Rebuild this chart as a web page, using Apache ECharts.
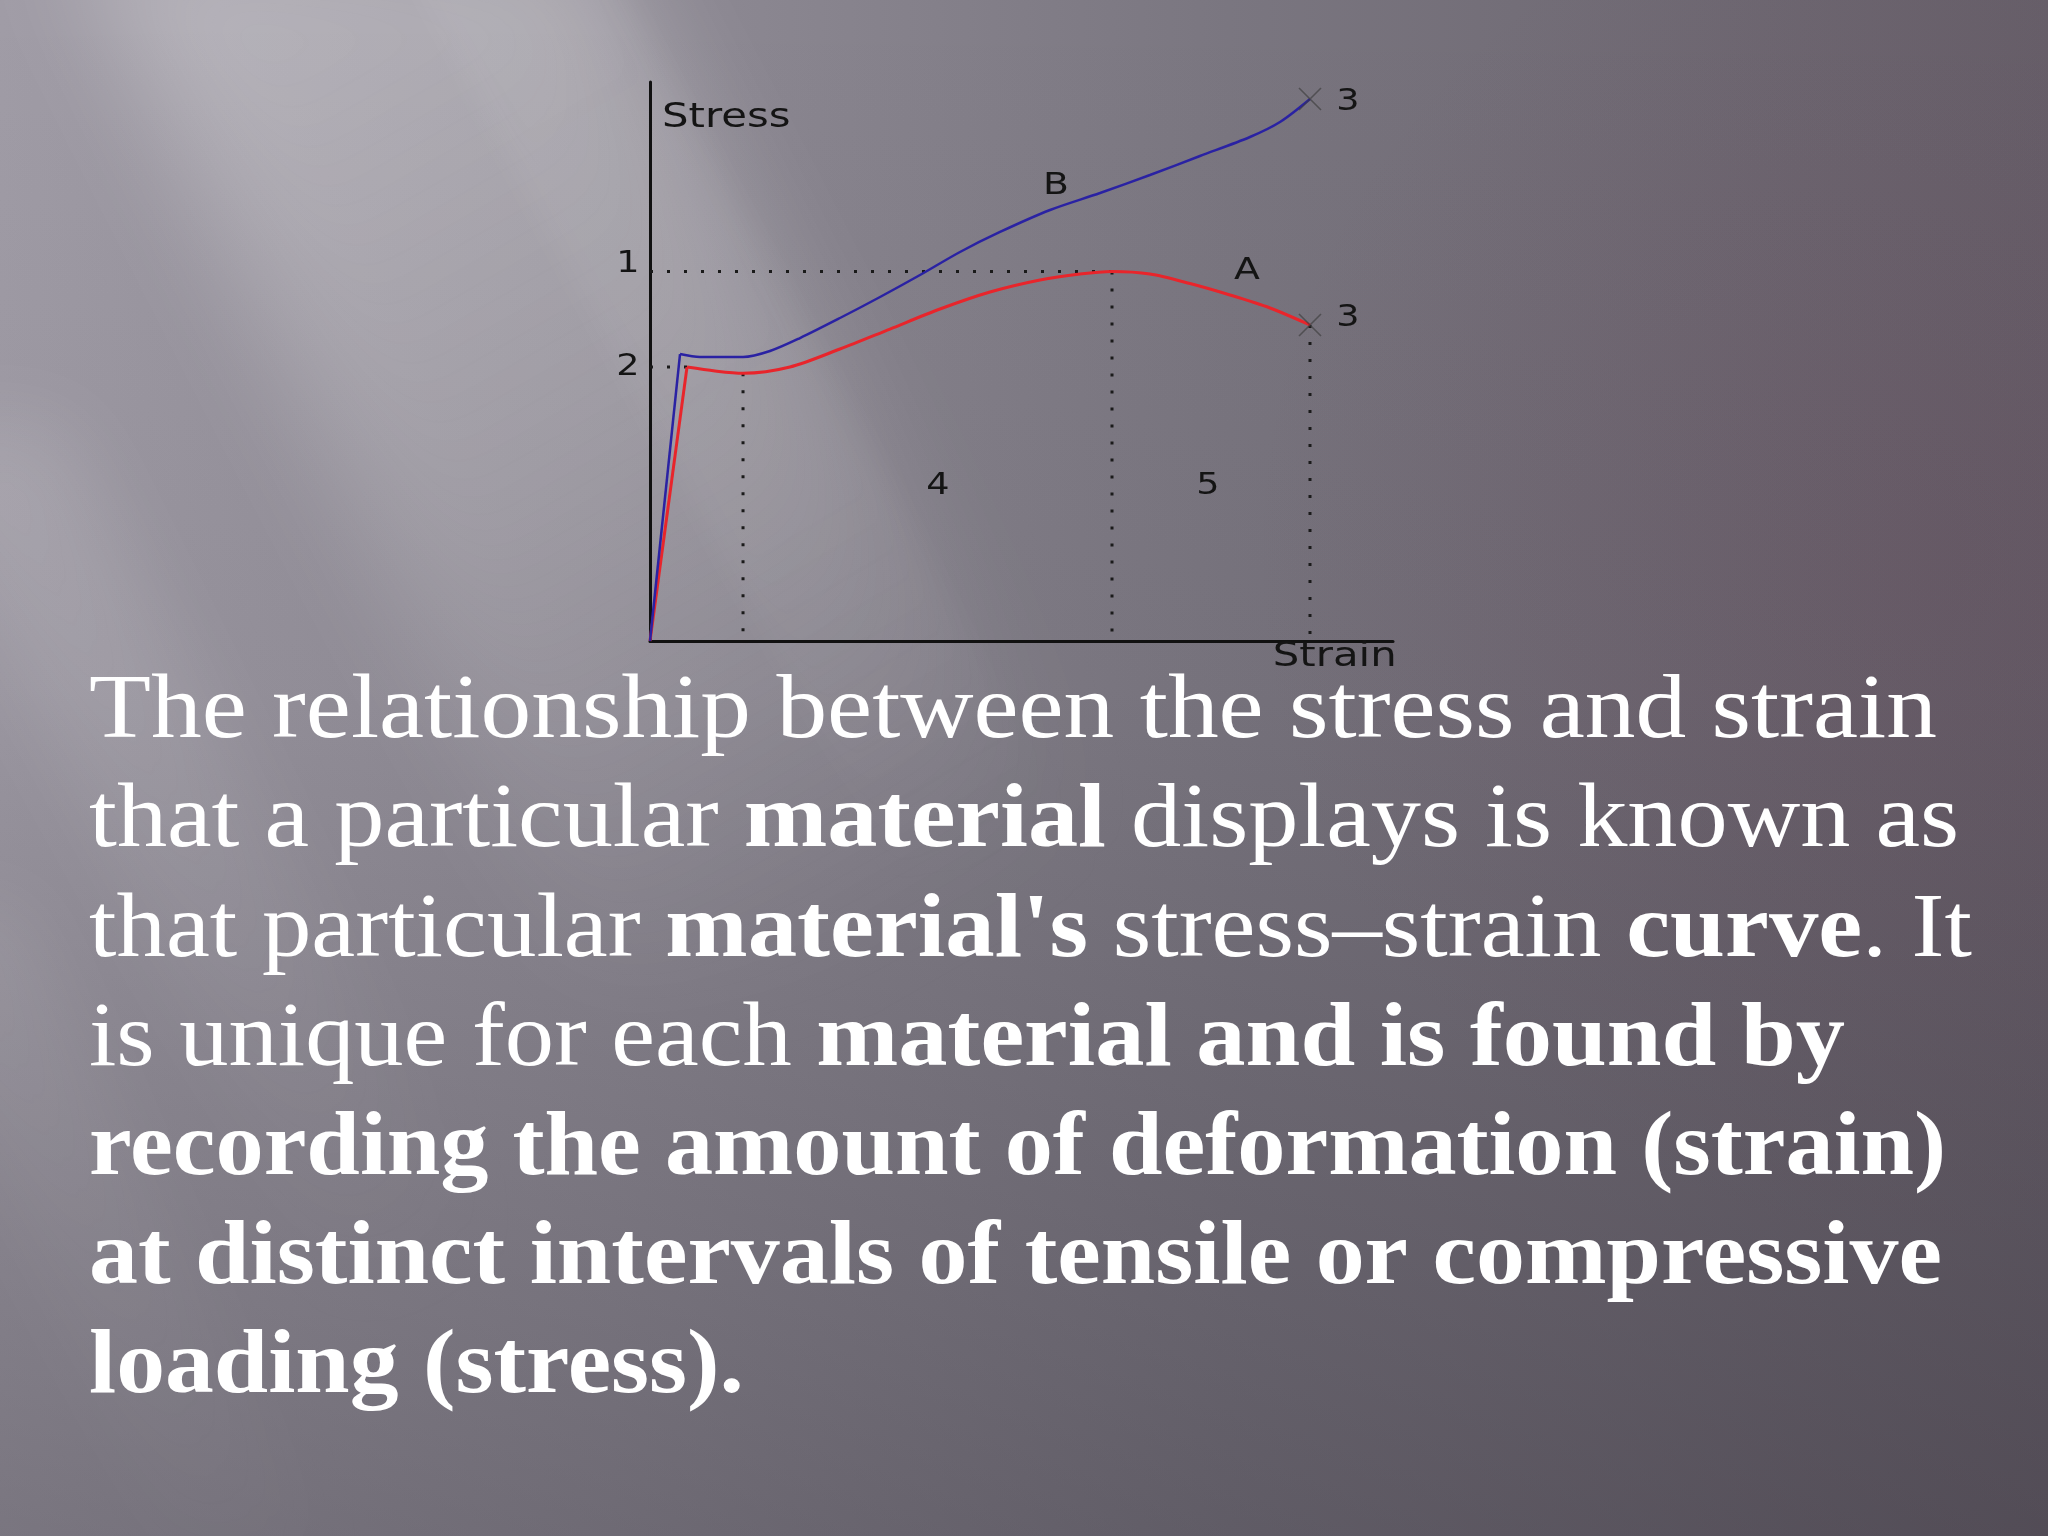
<!DOCTYPE html>
<html>
<head>
<meta charset="utf-8">
<script src="https://cdn.jsdelivr.net/npm/echarts@6/dist/echarts.min.js"></script>
<style>
html,body{margin:0;padding:0;width:2048px;height:1536px;overflow:hidden;background:#85818b;}
#c{width:2048px;height:1536px;}
</style>
</head>
<body>
<div id="c"></div>
<script>
// ---------- data (strain / stress in relative units, axes 0..100) ----------
// curve A (red): elastic line to the yield point, then plastic part
const curveAStrain = [0, 4.98, 8.75, 12.52, 18.84, 25.57, 32.30, 39.03, 45.76, 52.49, 57.87, 62.18, 67.29, 72.68, 78.06, 83.45, 88.83];
const curveAStress = [0, 49.0, 48.3, 47.9, 49.02, 52.24, 55.81, 59.39, 62.43, 64.58, 65.65, 66.10, 65.65, 63.95, 61.90, 59.57, 56.53];
// curve B (blue)
const curveBStrain = [0, 4.04, 6.73, 12.52, 16.15, 20.19, 25.57, 30.96, 36.34, 41.72, 47.11, 53.84, 60.57, 67.29, 74.02, 80.75, 84.79, 88.83];
const curveBStress = [0, 51.34, 50.81, 50.81, 51.88, 54.20, 57.78, 61.54, 65.47, 69.59, 73.17, 77.10, 80.14, 83.36, 86.76, 90.16, 92.84, 96.96];

const ultimateStrain = 62.18, ultimateStress = 66.1;   // point 1
const yieldStrain = 4.98, yieldStress = 49.0;          // point 2
const lowerYieldStrain = 12.52, lowerYieldStress = 47.9;
const fractureStrain = 88.83;                          // point 3
const fractureStressA = 56.53, fractureStressB = 96.96;

// annotation labels: [text, strain, stress, align]
const annotations = [
  ['1', -2.96, 67.4, 'center'],
  ['2', -2.96, 49.0, 'center'],
  ['3', 93.94, 96.4, 'center'],
  ['3', 93.94, 57.8, 'center'],
  ['A', 80.35, 66.2, 'center'],
  ['B', 54.64, 81.4, 'center'],
  ['4', 38.76, 27.7, 'center'],
  ['5', 75.10, 27.7, 'center']
];
const axisNames = [
  ['Stress', 1.62, 93.6, 'left'],
  ['Strain', 100.5, -2.86, 'right']
];

// paragraph: each line is a list of [text, bold]
const paragraph = [
  [['The relationship between the stress and strain', 0]],
  [['that a particular ', 0], ['material', 1], [' displays is known as', 0]],
  [['that particular ', 0], ["material's", 1], [' stress\u2013strain ', 0], ['curve', 1], ['. It', 0]],
  [['is unique for each ', 0], ['material and is found by', 1]],
  [['recording the amount of deformation (strain)', 1]],
  [['at distinct intervals of tensile or compressive', 1]],
  [['loading (stress).', 1]]
];
const lineWidths = [1848, 1870, 1883, 1756, 1857, 1853, 655];
const lineBaselines = [743, 852, 962, 1071, 1180, 1289, 1398];

// ---------- chart ----------
const chart = echarts.init(document.getElementById('c'), null, {renderer: 'canvas'});
const zip = (a, b) => a.map((v, i) => [v, b[i]]);
const dotStyle = {color: '#1a1a1a', width: 3, type: [3, 14]};
const redStyle = {color: '#e8252b', width: 3};
const blueStyle = {color: '#2a22a3', width: 2.5};

const guideLines = [
  [[0, ultimateStress], [ultimateStrain, ultimateStress]],
  [[0, yieldStress], [yieldStrain, yieldStress]],
  [[lowerYieldStrain, lowerYieldStress], [lowerYieldStrain, 0]],
  [[ultimateStrain, ultimateStress], [ultimateStrain, 0]],
  [[fractureStrain, fractureStressA], [fractureStrain, 0]]
];

const series = guideLines.map(d => ({
  type: 'line', data: d, symbol: 'none', silent: true, z: 1,
  lineStyle: dotStyle, animation: false
}));
const A = zip(curveAStrain, curveAStress), B = zip(curveBStrain, curveBStress);
series.push({type: 'line', data: A.slice(0, 2), symbol: 'none', lineStyle: redStyle, z: 3, animation: false});
series.push({type: 'line', data: A.slice(1), symbol: 'none', smooth: 0.3, lineStyle: redStyle, z: 3, animation: false});
series.push({type: 'line', data: B.slice(0, 2), symbol: 'none', lineStyle: blueStyle, z: 4, animation: false});
series.push({type: 'line', data: B.slice(1), symbol: 'none', smooth: 0.3, lineStyle: blueStyle, z: 4, animation: false});
series.push({
  type: 'scatter', data: [[fractureStrain, fractureStressB], [fractureStrain, fractureStressA]],
  symbol: 'path://M0,0L10,10M10,0L0,10', symbolSize: 22,
  itemStyle: {color: 'none', borderColor: 'rgba(60,60,60,0.8)', borderWidth: 1.6}, z: 5, animation: false
});

chart.setOption({
  animation: false,
  grid: {left: 650, top: 82, width: 743, height: 559, containLabel: false},
  xAxis: {type: 'value', min: 0, max: 100, axisLine: {show: true, lineStyle: {color: '#111', width: 3}},
    axisTick: {show: false}, axisLabel: {show: false}, splitLine: {show: false}},
  yAxis: {type: 'value', min: 0, max: 100, axisLine: {show: true, lineStyle: {color: '#111', width: 3}},
    axisTick: {show: false}, axisLabel: {show: false}, splitLine: {show: false}},
  series: series
});

// ---------- background (painted once into an offscreen canvas) ----------
const W = 2048, H = 1536;
const bgCanvas = document.createElement('canvas');
bgCanvas.width = W; bgCanvas.height = H;
(function paintBackground(g) {
  let gr = g.createLinearGradient(0, 0, W, 0);
  gr.addColorStop(0, '#a09ca6'); gr.addColorStop(0.3, '#8f8b95');
  gr.addColorStop(0.6, '#7a7680'); gr.addColorStop(1, '#665f69');
  g.fillStyle = gr; g.fillRect(0, 0, W, H);
  function beam(pts, blur, x1, y1, x2, y2, stops) {
    g.save();
    g.filter = 'blur(' + blur + 'px)';
    const lg = g.createLinearGradient(x1, y1, x2, y2);
    stops.forEach(s => lg.addColorStop(s[0], s[1]));
    g.fillStyle = lg;
    g.beginPath(); g.moveTo(pts[0][0], pts[0][1]);
    for (let i = 1; i < pts.length; i++) g.lineTo(pts[i][0], pts[i][1]);
    g.closePath(); g.fill();
    g.restore();
  }
  // main diagonal light beam (top-left towards the chart's lower-left corner)
  beam([[60, -80], [585, -80], [1160, 980], [580, 980]], 55, 300, 0, 860, 980,
    [[0, 'rgba(255,255,255,0.27)'], [0.5, 'rgba(255,255,255,0.17)'], [1, 'rgba(255,255,255,0)']]);
  // a sharper edge on the beam's right side
  beam([[380, -80], [585, -80], [1100, 870], [890, 870]], 14, 480, 0, 1000, 870,
    [[0, 'rgba(255,255,255,0.06)'], [0.6, 'rgba(255,255,255,0.05)'], [1, 'rgba(255,255,255,0)']]);
  // streaks along the left edge
  beam([[-120, 420], [60, 420], [520, 1300], [340, 1300]], 40, 0, 420, 430, 1300,
    [[0, 'rgba(255,255,255,0.14)'], [0.6, 'rgba(255,255,255,0.07)'], [1, 'rgba(255,255,255,0)']]);
  beam([[-140, 900], [20, 900], [330, 1560], [170, 1560]], 35, 0, 900, 250, 1560,
    [[0, 'rgba(255,255,255,0.10)'], [1, 'rgba(255,255,255,0.02)']]);
  // warm tint on the right
  const rg = g.createRadialGradient(1950, 550, 0, 1950, 550, 700);
  rg.addColorStop(0, 'rgba(105,70,90,0.22)'); rg.addColorStop(1, 'rgba(105,70,90,0)');
  g.fillStyle = rg; g.fillRect(0, 0, W, H);
  // darkening towards the bottom
  gr = g.createLinearGradient(0, 0, 0, H);
  gr.addColorStop(0, 'rgba(40,36,46,0)'); gr.addColorStop(0.45, 'rgba(40,36,46,0.06)');
  gr.addColorStop(1, 'rgba(40,36,46,0.32)');
  g.fillStyle = gr; g.fillRect(0, 0, W, H);
})(bgCanvas.getContext('2d'));
const bg = [{type: 'image', x: 0, y: 0, z: -100, silent: true,
  style: {image: bgCanvas, x: 0, y: 0, width: W, height: H}}];

// ---------- chart labels ----------
const labelEls = [];
const SX = 1.22;
annotations.forEach(a => {
  const p = chart.convertToPixel({gridIndex: 0}, [a[1], a[2]]);
  const big = (a[0] === 'A' || a[0] === 'B');
  labelEls.push({type: 'text', x: p[0], y: p[1], scaleX: SX, originX: 0, originY: 0, z: 20, silent: true,
    style: {text: a[0], fontFamily: 'DejaVu Sans', fontSize: big ? 31 : 30, fill: '#141414',
      align: a[3], verticalAlign: 'middle', textAlign: a[3], textVerticalAlign: 'middle'}});
});
axisNames.forEach(a => {
  const p = chart.convertToPixel({gridIndex: 0}, [a[1], a[2]]);
  labelEls.push({type: 'text', x: p[0], y: p[1], scaleX: 1.23, originX: 0, originY: 0, z: 20, silent: true,
    style: {text: a[0], fontFamily: 'DejaVu Sans', fontSize: 34, fill: '#141414',
      align: a[3], verticalAlign: 'middle', textAlign: a[3], textVerticalAlign: 'middle'}});
});

// ---------- paragraph ----------
const FS = 92, FAM = '"Liberation Serif", serif';
const mctx = document.createElement('canvas').getContext('2d');
function fontStr(b) { return (b ? 'bold ' : '') + FS + 'px ' + FAM; }
const textEls = [];
paragraph.forEach((line, i) => {
  let total = 0;
  const widths = line.map(seg => { mctx.font = fontStr(seg[1]); const w = mctx.measureText(seg[0]).width; total += w; return w; });
  const s = lineWidths[i] / total;
  let x = 89;
  line.forEach((seg, j) => {
    textEls.push({type: 'text', x: x, y: lineBaselines[i] - 30, scaleX: s, originX: 0, originY: 0, z: 30, silent: true,
      style: {text: seg[0], fontFamily: FAM, fontSize: FS, fontWeight: seg[1] ? 'bold' : 'normal', fill: '#ffffff',
        align: 'left', verticalAlign: 'middle', textAlign: 'left', textVerticalAlign: 'middle'}});
    x += widths[j] * s;
  });
});

chart.setOption({graphic: {elements: bg.concat(labelEls, textEls)}});
</script>
</body>
</html>
